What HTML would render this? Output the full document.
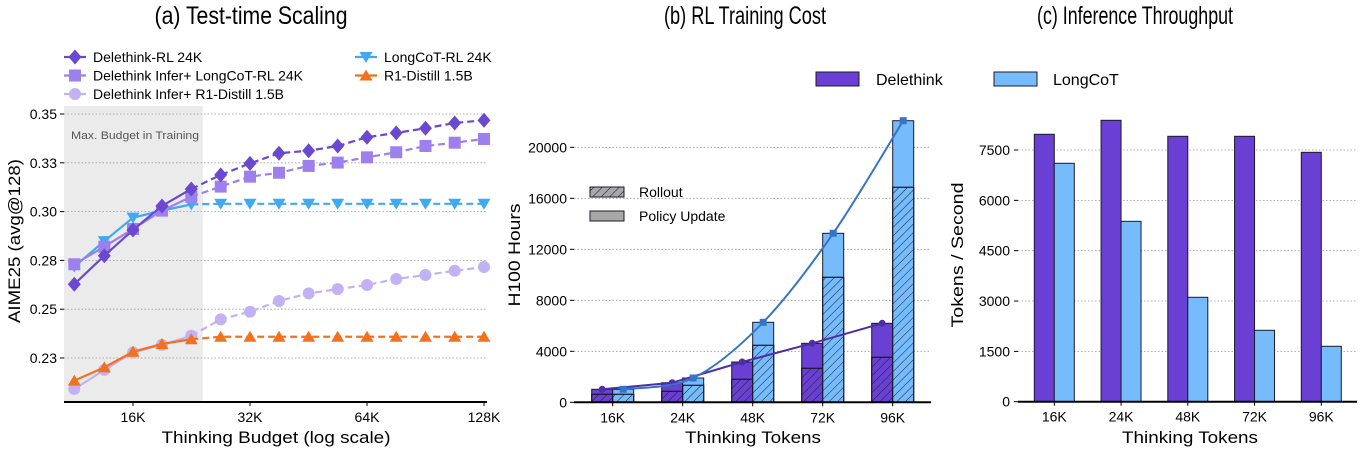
<!DOCTYPE html>
<html><head><meta charset="utf-8">
<style>
html,body{margin:0;padding:0;background:#fff;}
svg{display:block;font-family:"Liberation Sans","DejaVu Sans",sans-serif;}
</style></head>
<body>
<svg id="fig" width="1361" height="452" viewBox="0 0 1361 452" xmlns="http://www.w3.org/2000/svg">
<defs>
<pattern id="hatch" patternUnits="userSpaceOnUse" width="6" height="6" patternTransform="rotate(45)">
<line x1="0" y1="0" x2="0" y2="6" stroke="#1a1a2a" stroke-width="1"/>
</pattern>
</defs>
<g id="pa"></g>
<g id="pb"></g>
<g id="pc"></g>
</svg>
<script>
// ---------- Panel A data ----------
const budgetsK = [11.3,13.5,16,19,22.6,26.9,32,38,45.3,53.8,64,76.1,90.5,107.6,128];
const deleRL = [0.2628,0.2774,0.2906,0.3029,0.3116,0.3188,0.3247,0.3299,0.3312,0.3336,0.3381,0.3403,0.3427,0.3454,0.3468];
const deleInferLong = [0.2730,0.2820,0.2911,0.3005,0.3076,0.3128,0.3179,0.3199,0.3234,0.3251,0.3278,0.3304,0.3336,0.3353,0.3372];
const deleInferR1 = [0.2091,0.2189,0.2279,0.2317,0.2364,0.2448,0.2487,0.2542,0.2581,0.2603,0.2624,0.2655,0.2675,0.2697,0.2716];
const longcotRL = [0.2718,0.2849,0.2969,0.3005,0.3037,0.3040,0.3040,0.3040,0.3040,0.3040,0.3040,0.3040,0.3040,0.3040,0.3040];
const r1Distill = [0.2134,0.2202,0.2282,0.2322,0.2346,0.2359,0.2359,0.2359,0.2359,0.2359,0.2359,0.2359,0.2359,0.2359,0.2359];
const aYTicks = [0.225,0.25,0.275,0.30,0.325,0.35];
const aYTickLabels = ["0.23","0.25","0.28","0.30","0.33","0.35"];
const aXTicks = [16,32,64,128];
const aXTickLabels = ["16K","32K","64K","128K"];
const trainBudgetK = 24.2;
// ---------- Panel B data ----------
const bCats = ["16K","24K","48K","72K","96K"];
const bDeleTotal = [1020,1537,3161,4627,6196];
const bDeleRollout = [627,863,1804,2667,3529];
const bLongTotal = [1020,1906,6275,13255,22086];
const bLongRollout = [627,1333,4471,9804,16863];
const bYTicks = [0,4000,8000,12000,16000,20000];
// ---------- Panel C data ----------
const cCats = ["16K","24K","48K","72K","96K"];
const cDele = [7968,8385,7908,7908,7431];
const cLong = [7104,5375,3111,2128,1651];
const cYTicks = [0,1500,3000,4500,6000,7500];

const NS="http://www.w3.org/2000/svg";
function mk(parent,tag,attrs,text){const e=document.createElementNS(NS,tag);for(const k in attrs)e.setAttribute(k,attrs[k]);if(text!==undefined)e.textContent=text;parent.appendChild(e);return e;}

const C_DELE="#6a3fd3", C_LONG="#76bcfc", C_EDGE="#1b1b2b";

// ================= Panel A =================
const pa=document.getElementById('pa');
const aL=64,aR=487,aB=402;
function ax(b){return 484+Math.log2(b/128)*117;}
function ay(v){return 114+(0.35-v)*1952;}
let t=mk(pa,'text',{x:251,y:24,'text-anchor':'middle','font-size':25,textLength:193,lengthAdjust:'spacingAndGlyphs'},'(a) Test-time Scaling');


let r=mk(pa,'rect',{x:aL,y:106,width:ax(trainBudgetK)-aL,height:aB-106,fill:'#ebebeb'});


t=mk(pa,'text',{x:71,y:139,'font-size':11,fill:'#555',textLength:128,lengthAdjust:'spacingAndGlyphs'},'Max. Budget in Training');


aYTicks.forEach((v,i)=>{
  const y=ay(v);
  const g=mk(pa,'line',{x1:aL,x2:aR,y1:y,y2:y,stroke:'#999','stroke-width':0.8,'stroke-dasharray':'1.5,2'});
  
  
  mk(pa,'line',{x1:aL-4,x2:aL,y1:y,y2:y,stroke:'#000','stroke-width':1});
  const l=mk(pa,'text',{x:57,y:y+5,'text-anchor':'end','font-size':14},aYTickLabels[i]);
  
  
});
aXTicks.forEach((b,i)=>{
  const x=ax(b);
  mk(pa,'line',{x1:x,x2:x,y1:aB,y2:aB+4,stroke:'#000','stroke-width':1});
  const l=mk(pa,'text',{x:x,y:aB+20,'text-anchor':'middle','font-size':14},aXTickLabels[i]);
  
  
});
let axl=mk(pa,'line',{x1:aL,x2:aR,y1:aB,y2:aB,stroke:'#000','stroke-width':2});


t=mk(pa,'text',{x:276,y:443,'text-anchor':'middle','font-size':17,textLength:229,lengthAdjust:'spacingAndGlyphs'},'Thinking Budget (log scale)');


t=mk(pa,'text',{x:0,y:0,'text-anchor':'middle','font-size':17,transform:'translate(20,241) rotate(-90)',textLength:164,lengthAdjust:'spacingAndGlyphs'},'AIME25 (avg@128)');



function marker(g,type,x,y,color){
  if(type==='diamond')return mk(g,'polygon',{points:`${x},${y-7.5} ${x+6.5},${y} ${x},${y+7.5} ${x-6.5},${y}`,fill:color});
  if(type==='square')return mk(g,'rect',{x:x-6,y:y-6,width:12,height:12,fill:color});
  if(type==='circle')return mk(g,'circle',{cx:x,cy:y,r:6,fill:color});
  if(type==='tridown')return mk(g,'polygon',{points:`${x-6.5},${y-5} ${x+6.5},${y-5} ${x},${y+6}`,fill:color});
  if(type==='triup')return mk(g,'polygon',{points:`${x-6.5},${y+5} ${x+6.5},${y+5} ${x},${y-6}`,fill:color});
}
const aSeries=[
  {name:'series-dele-infer-r1',vals:deleInferR1,color:'#c2b2f3',m:'circle'},
  {name:'series-r1-distill',vals:r1Distill,color:'#f2711f',m:'triup'},
  {name:'series-longcot-rl',vals:longcotRL,color:'#3fa9f2',m:'tridown'},
  {name:'series-dele-infer-longcot',vals:deleInferLong,color:'#9d80ee',m:'square'},
  {name:'series-delethink-rl',vals:deleRL,color:'#6a48cf',m:'diamond'}
];
aSeries.forEach(s=>{
  const g=mk(pa,'g',{});
  
  
  const pts=s.vals.map((v,i)=>[ax(budgetsK[i]),ay(v)]);
  const solid=pts.slice(0,5).map(p=>p.join(',')).join(' ');
  const dashed=pts.slice(4).map(p=>p.join(',')).join(' ');
  mk(g,'polyline',{points:solid,fill:'none',stroke:s.color,'stroke-width':2.2});
  mk(g,'polyline',{points:dashed,fill:'none',stroke:s.color,'stroke-width':2.2,'stroke-dasharray':'7,4'});
  pts.forEach(p=>{const m=marker(g,s.m,p[0],p[1],s.color);
    
    });
});
// Legend A
const aLeg=[
  {label:'Delethink-RL 24K',color:'#6a48cf',m:'diamond',x:64,y:57},
  {label:'Delethink Infer+ LongCoT-RL 24K',color:'#9d80ee',m:'square',x:64,y:75.5},
  {label:'Delethink Infer+ R1-Distill 1.5B',color:'#c2b2f3',m:'circle',x:64,y:94},
  {label:'LongCoT-RL 24K',color:'#3fa9f2',m:'tridown',x:355,y:57},
  {label:'R1-Distill 1.5B',color:'#f2711f',m:'triup',x:355,y:75.5}
];
aLeg.forEach(e=>{
  const g=mk(pa,'g',{});
  
  
  mk(g,'line',{x1:e.x,x2:e.x+22,y1:e.y,y2:e.y,stroke:e.color,'stroke-width':2.2});
  marker(g,e.m,e.x+11,e.y,e.color);
  mk(g,'text',{x:e.x+29,y:e.y+5,'font-size':14},e.label);
});

// ================= Panel B =================
const pb=document.getElementById('pb');
const bL=574,bR=931,bB=402.3,bStep=70,bX0=612.7,bW=21;
function bx(i){return bX0+i*bStep;}
function by(v){return bB-v*0.01275;}
t=mk(pb,'text',{x:745,y:24,'text-anchor':'middle','font-size':25,textLength:162,lengthAdjust:'spacingAndGlyphs'},'(b) RL Training Cost');


bYTicks.forEach(v=>{
  const y=by(v);
  if(v>0){const g=mk(pb,'line',{x1:bL,x2:bR,y1:y,y2:y,stroke:'#999','stroke-width':0.8,'stroke-dasharray':'1.5,2'});
  
  }
  mk(pb,'line',{x1:bL-4,x2:bL,y1:y,y2:y,stroke:'#000','stroke-width':1});
  const l=mk(pb,'text',{x:567,y:y+5,'text-anchor':'end','font-size':14},String(v));
  
  
});
bCats.forEach((c,i)=>{
  const x=bx(i);
  function bar(x0,total,roll,color,name){
    const g=mk(pb,'g',{});
    
    
    mk(g,'rect',{x:x0,y:by(total),width:bW,height:by(0)-by(total),fill:color,stroke:C_EDGE,'stroke-width':1});
    mk(g,'rect',{x:x0,y:by(roll),width:bW,height:by(0)-by(roll),fill:color,stroke:C_EDGE,'stroke-width':1});
    mk(g,'rect',{x:x0,y:by(roll),width:bW,height:by(0)-by(roll),fill:'url(#hatch)',stroke:C_EDGE,'stroke-width':1});
  }
  bar(x-bW,bDeleTotal[i],bDeleRollout[i],C_DELE,'bar-delethink-'+c);
  bar(x,bLongTotal[i],bLongRollout[i],C_LONG,'bar-longcot-'+c);
  mk(pb,'line',{x1:x,x2:x,y1:bB,y2:bB+4,stroke:'#000','stroke-width':1});
  const l=mk(pb,'text',{x:x,y:bB+20,'text-anchor':'middle','font-size':14},c);
  
  
});
const dPts=bDeleTotal.map((v,i)=>[bx(i)-bW/2,by(v)]);
const lPts=bLongTotal.map((v,i)=>[bx(i)+bW/2,by(v)]);
function catmull(p){let d=`M${p[0][0]},${p[0][1]}`;for(let i=0;i<p.length-1;i++){const p0=p[i-1]||p[i],p1=p[i],p2=p[i+1],p3=p[i+2]||p2;
  const c1=[p1[0]+(p2[0]-p0[0])/6,p1[1]+(p2[1]-p0[1])/6],c2=[p2[0]-(p3[0]-p1[0])/6,p2[1]-(p3[1]-p1[1])/6];
  d+=` C${c1[0]},${c1[1]} ${c2[0]},${c2[1]} ${p2[0]},${p2[1]}`;}return d;}
let ln=mk(pb,'polyline',{points:dPts.map(p=>p.join(',')).join(' '),fill:'none',stroke:'#4b2fa3','stroke-width':2});


dPts.forEach(p=>{const m=mk(pb,'circle',{cx:p[0],cy:p[1],r:3.5,fill:'#4b2fa3'});
  
  });
ln=mk(pb,'path',{d:catmull(lPts),fill:'none',stroke:'#3575c8','stroke-width':2});


lPts.forEach(p=>{const m=mk(pb,'rect',{x:p[0]-3.5,y:p[1]-3.5,width:7,height:7,fill:'#3575c8'});
  
  });
axl=mk(pb,'line',{x1:bL,x2:bR,y1:bB,y2:bB,stroke:'#000','stroke-width':2});


t=mk(pb,'text',{x:753,y:443,'text-anchor':'middle','font-size':17,textLength:136,lengthAdjust:'spacingAndGlyphs'},'Thinking Tokens');


t=mk(pb,'text',{x:0,y:0,'text-anchor':'middle','font-size':17,transform:'translate(520,255) rotate(-90)',textLength:103,lengthAdjust:'spacingAndGlyphs'},'H100 Hours');


[{label:'Rollout',y:187,h:true},{label:'Policy Update',y:211,h:false}].forEach(e=>{
  const g=mk(pb,'g',{});
  
  
  mk(g,'rect',{x:590,y:e.y,width:34,height:10,fill:'#a8a8a8',stroke:C_EDGE,'stroke-width':1});
  if(e.h)mk(g,'rect',{x:590,y:e.y,width:34,height:10,fill:'url(#hatch)',stroke:C_EDGE,'stroke-width':1});
  mk(g,'text',{x:639,y:e.y+10,'font-size':14},e.label);
});

// ================= Panel C =================
const pc=document.getElementById('pc');
const cL=1018,cR=1357,cB=401.7,cW=20;
function cx(i){return 1054.3+i*66.75;}
function cy(v){return cB-v*0.03356;}
t=mk(pc,'text',{x:1135,y:24,'text-anchor':'middle','font-size':25,textLength:196,lengthAdjust:'spacingAndGlyphs'},'(c) Inference Throughput');


cYTicks.forEach(v=>{
  const y=cy(v);
  if(v>0){const g=mk(pc,'line',{x1:cL,x2:cR,y1:y,y2:y,stroke:'#999','stroke-width':0.8,'stroke-dasharray':'1.5,2'});
  
  }
  mk(pc,'line',{x1:cL-4,x2:cL,y1:y,y2:y,stroke:'#000','stroke-width':1});
  const l=mk(pc,'text',{x:1010,y:y+5,'text-anchor':'end','font-size':14},String(v));
  
  
});
cCats.forEach((c,i)=>{
  const x=cx(i);
  let b=mk(pc,'rect',{x:x-cW,y:cy(cDele[i]),width:cW,height:cB-cy(cDele[i]),fill:C_DELE,stroke:C_EDGE,'stroke-width':1});
  
  
  b=mk(pc,'rect',{x:x,y:cy(cLong[i]),width:cW,height:cB-cy(cLong[i]),fill:C_LONG,stroke:C_EDGE,'stroke-width':1});
  
  
  mk(pc,'line',{x1:x,x2:x,y1:cB,y2:cB+4,stroke:'#000','stroke-width':1});
  const l=mk(pc,'text',{x:x,y:cB+20,'text-anchor':'middle','font-size':14},c);
  
  
});
axl=mk(pc,'line',{x1:cL,x2:cR,y1:cB,y2:cB,stroke:'#000','stroke-width':2});


t=mk(pc,'text',{x:1190,y:443,'text-anchor':'middle','font-size':17,textLength:136,lengthAdjust:'spacingAndGlyphs'},'Thinking Tokens');


t=mk(pc,'text',{x:0,y:0,'text-anchor':'middle','font-size':17,transform:'translate(963,255) rotate(-90)',textLength:145,lengthAdjust:'spacingAndGlyphs'},'Tokens / Second');


[{label:'Delethink',x:816,tx:876,c:C_DELE},{label:'LongCoT',x:994,tx:1053,c:C_LONG}].forEach(e=>{
  const g=mk(pc,'g',{});
  
  
  mk(g,'rect',{x:e.x,y:72,width:43,height:14,fill:e.c,stroke:C_EDGE,'stroke-width':1});
  mk(g,'text',{x:e.tx,y:85,'font-size':16},e.label);
});
</script>
</body></html>
